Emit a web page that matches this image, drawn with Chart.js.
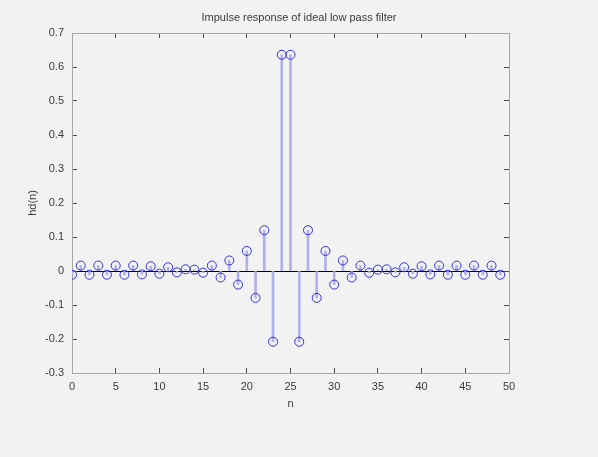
<!DOCTYPE html>
<html>
<head>
<meta charset="utf-8">
<script src="https://cdn.jsdelivr.net/npm/chart.js@4/dist/chart.umd.min.js"></script>
<style>
  html, body { margin: 0; padding: 0; background: #f2f2f2; }
  #wrap { width: 598px; height: 457px; position: relative; }
</style>
</head>
<body>
<div id="wrap"><canvas id="c"></canvas></div>
<script>
// ---- data ----
const nValues = [0,1,2,3,4,5,6,7,8,9,10,11,12,13,14,15,16,17,18,19,20,21,22,23,24,
                 25,26,27,28,29,30,31,32,33,34,35,36,37,38,39,40,41,42,43,44,45,46,47,48,49];
const hdValues = [-0.011, 0.016, -0.011, 0.016, -0.011, 0.016, -0.011, 0.016, -0.010, 0.014,
                  -0.008, 0.011, -0.004, 0.005, 0.004, -0.005, 0.016, -0.019, 0.031, -0.040,
                  0.059, -0.079, 0.120, -0.208, 0.636,
                  0.636, -0.208, 0.120, -0.079, 0.059, -0.040, 0.031, -0.019, 0.016, -0.005,
                  0.004, 0.005, -0.004, 0.011, -0.008, 0.014, -0.010, 0.016, -0.011, 0.016,
                  -0.011, 0.016, -0.011, 0.016, -0.011];
const xTicks = [0, 5, 10, 15, 20, 25, 30, 35, 40, 45, 50];
const yTicks = [-0.3, -0.2, -0.1, 0, 0.1, 0.2, 0.3, 0.4, 0.5, 0.6, 0.7];
const titleText = 'Impulse response of ideal low pass filter';
const xLabel = 'n';
const yLabel = 'hd(n)';

const points = nValues.map((n, i) => ({ x: n, y: hdValues[i] }));
const FONT = { family: 'Liberation Sans, Arial, sans-serif', size: 11, weight: 'normal' };
const TXT = '#3a3a3a';
const BORDER = '#a6a6a6';
const TICK = '#4a4a4a';

const setTicks = arr => scale => { scale.ticks = arr.map(v => ({ value: v })); };

new Chart(document.getElementById('c'), {
  type: 'bar',
  data: {
    datasets: [
      {
        type: 'scatter',
        data: points,
        order: 0,
        pointStyle: 'circle',
        pointRadius: 4.5,
        pointHoverRadius: 4.5,
        borderColor: '#2f2fe6',
        backgroundColor: 'rgba(0,0,0,0)',
        borderWidth: 1,
        showLine: false
      },
      {
        type: 'bar',
        data: points,
        order: 1,
        backgroundColor: '#b0b0ee',
        borderWidth: 0,
        barThickness: 2,
        grouped: false
      }
    ]
  },
  options: {
    responsive: true,
    maintainAspectRatio: false,
    animation: false,
    devicePixelRatio: 1,
    layout: { padding: 0 },
    plugins: {
      legend: { display: false },
      tooltip: { enabled: false },
      title: {
        display: true,
        text: titleText,
        color: TXT,
        font: FONT,
        padding: { top: 11, bottom: 0 }
      }
    },
    scales: {
      x: {
        type: 'linear',
        position: 'bottom',
        offset: false,
        min: 0, max: 50,
        afterBuildTicks: setTicks(xTicks),
        afterFit: s => { s.height = 84; },
        ticks: { color: TXT, font: FONT, padding: 12, maxRotation: 0, autoSkip: false,
                 callback: v => String(v) },
        grid: { offset: false, drawOnChartArea: false, tickLength: -5, tickColor: TICK, color: TICK },
        border: { color: BORDER, width: 1 },
        title: { display: true, text: xLabel, color: TXT, font: FONT, padding: { top: 0, bottom: 46.6 } }
      },
      x2: {
        type: 'linear',
        position: 'top',
        offset: false,
        min: 0, max: 50,
        afterBuildTicks: setTicks(xTicks),
        afterFit: s => { s.height = 8.8; },
        ticks: { display: false },
        grid: { offset: false, drawOnChartArea: false, tickLength: -5, tickColor: TICK, color: TICK },
        border: { color: BORDER, width: 1 }
      },
      y: {
        type: 'linear',
        position: 'left',
        min: -0.3, max: 0.7,
        afterBuildTicks: setTicks(yTicks),
        afterFit: s => { s.width = 72; },
        ticks: { color: TXT, font: FONT, padding: 13, autoSkip: false,
                 callback: v => String(v) },
        grid: {
          drawOnChartArea: true,
          tickLength: -5,
          tickColor: TICK,
          color: ctx => (ctx.tick && ctx.tick.value === 0) ? '#000000' : 'rgba(0,0,0,0)',
          lineWidth: 1
        },
        border: { color: BORDER, width: 1 },
        title: { display: true, text: yLabel, color: TXT, font: FONT, padding: { top: 26.4, bottom: 0 } }
      },
      y2: {
        type: 'linear',
        position: 'right',
        min: -0.3, max: 0.7,
        afterBuildTicks: setTicks(yTicks),
        afterFit: s => { s.width = 89; },
        ticks: { display: false },
        grid: { drawOnChartArea: false, tickLength: -5, tickColor: TICK, color: TICK },
        border: { color: BORDER, width: 1 }
      }
    }
  }
});
</script>
</body>
</html>
